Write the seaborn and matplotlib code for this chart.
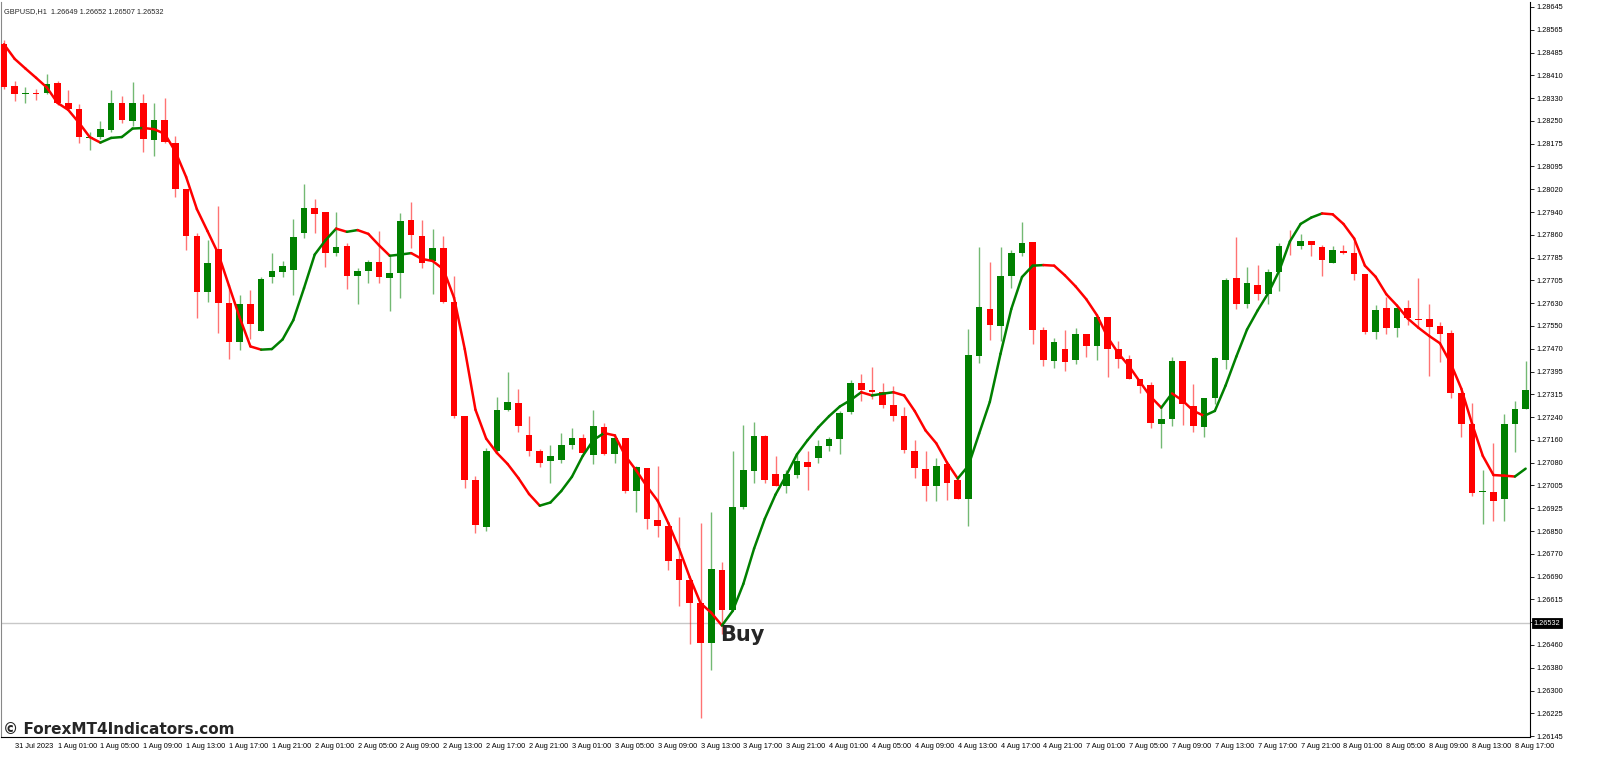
import numpy as np
import pandas as pd
import seaborn as sns
import matplotlib
matplotlib.use("Agg")
import matplotlib.pyplot as plt

# GBPUSD H1, 31 Jul 2023 20:00 .. 8 Aug 2023 18:00
opens = [1.28517, 1.28374, 1.28347, 1.28347, 1.28349, 1.28383, 1.28316, 1.28294, 1.28197, 1.28199,
         1.28223, 1.28316, 1.28254, 1.28316, 1.28188, 1.28257, 1.28179, 1.28020, 1.27861, 1.27669,
         1.27815, 1.27629, 1.27497, 1.27627, 1.27535, 1.27718, 1.27737, 1.27744, 1.27870, 1.27957,
         1.27941, 1.27801, 1.27826, 1.27724, 1.27740, 1.27771, 1.27716, 1.27732, 1.27916, 1.27861,
         1.27774, 1.27817, 1.27633, 1.27242, 1.27023, 1.26862, 1.27122, 1.27262, 1.27288, 1.27179,
         1.27122, 1.27089, 1.27091, 1.27144, 1.27168, 1.27108, 1.27204, 1.27113, 1.27166, 1.26987,
         1.27064, 1.26886, 1.26866, 1.26751, 1.26680, 1.26601, 1.26464, 1.26716, 1.26577, 1.26930,
         1.27053, 1.27173, 1.27045, 1.27004, 1.27039, 1.27085, 1.27100, 1.27140, 1.27162, 1.27256,
         1.27357, 1.27330, 1.27324, 1.27280, 1.27242, 1.27122, 1.27061, 1.27001, 1.27078, 1.27023,
         1.26957, 1.27447, 1.27611, 1.27552, 1.27724, 1.27803, 1.27838, 1.27539, 1.27432, 1.27473,
         1.27435, 1.27525, 1.27484, 1.27581, 1.27473, 1.27438, 1.27369, 1.27349, 1.27216, 1.27231,
         1.27432, 1.27278, 1.27205, 1.27303, 1.27435, 1.27714, 1.27625, 1.27690, 1.27662, 1.27736,
         1.27826, 1.27824, 1.27841, 1.27821, 1.27767, 1.27808, 1.27802, 1.27728, 1.27531, 1.27613,
         1.27545, 1.27614, 1.27575, 1.27575, 1.27550, 1.27528, 1.27320, 1.27216, 1.26982, 1.26983,
         1.26958, 1.27216, 1.27265]
highs = [1.28530, 1.28391, 1.28369, 1.28365, 1.28415, 1.28391, 1.28361, 1.28312, 1.28217, 1.28254,
         1.28361, 1.28341, 1.28387, 1.28347, 1.28314, 1.28333, 1.28204, 1.28020, 1.27870, 1.27845,
         1.27961, 1.27689, 1.27656, 1.27673, 1.27719, 1.27803, 1.27774, 1.27919, 1.28039, 1.27987,
         1.27941, 1.27941, 1.27834, 1.27750, 1.27779, 1.27878, 1.27790, 1.27940, 1.27976, 1.27914,
         1.27885, 1.27861, 1.27721, 1.27244, 1.27036, 1.27133, 1.27308, 1.27393, 1.27335, 1.27244,
         1.27130, 1.27144, 1.27185, 1.27201, 1.27180, 1.27262, 1.27217, 1.27180, 1.27166, 1.27072,
         1.27064, 1.27072, 1.26866, 1.26895, 1.26680, 1.26877, 1.26913, 1.26741, 1.27122, 1.27213,
         1.27222, 1.27176, 1.27107, 1.27056, 1.27116, 1.27121, 1.27160, 1.27169, 1.27258, 1.27366,
         1.27385, 1.27410, 1.27357, 1.27346, 1.27275, 1.27160, 1.27121, 1.27100, 1.27083, 1.27034,
         1.27541, 1.27823, 1.27771, 1.27823, 1.27812, 1.27907, 1.27838, 1.27547, 1.27510, 1.27539,
         1.27545, 1.27525, 1.27586, 1.27581, 1.27501, 1.27451, 1.27371, 1.27358, 1.27271, 1.27446,
         1.27432, 1.27353, 1.27303, 1.27446, 1.27714, 1.27857, 1.27755, 1.27760, 1.27747, 1.27835,
         1.27881, 1.27868, 1.27841, 1.27830, 1.27824, 1.27830, 1.27841, 1.27728, 1.27624, 1.27649,
         1.27616, 1.27641, 1.27714, 1.27627, 1.27564, 1.27539, 1.27331, 1.27287, 1.27057, 1.27150,
         1.27249, 1.27295, 1.27430]
lows = [1.28365, 1.28323, 1.28316, 1.28325, 1.28347, 1.28308, 1.28290, 1.28177, 1.28155, 1.28193,
        1.28215, 1.28248, 1.28237, 1.28146, 1.28135, 1.28177, 1.27994, 1.27810, 1.27580, 1.27634,
        1.27527, 1.27437, 1.27470, 1.27508, 1.27533, 1.27700, 1.27719, 1.27659, 1.27853, 1.27870,
        1.27754, 1.27790, 1.27677, 1.27628, 1.27697, 1.27700, 1.27602, 1.27648, 1.27817, 1.27750,
        1.27661, 1.27631, 1.27237, 1.26995, 1.26842, 1.26848, 1.27116, 1.27259, 1.27187, 1.27105,
        1.27069, 1.27012, 1.27081, 1.27129, 1.27105, 1.27078, 1.27109, 1.27081, 1.26979, 1.26913,
        1.26855, 1.26826, 1.26716, 1.26592, 1.26461, 1.26207, 1.26371, 1.26494, 1.26577, 1.26924,
        1.27012, 1.27012, 1.27004, 1.26979, 1.27031, 1.26990, 1.27083, 1.27122, 1.27111, 1.27248,
        1.27295, 1.27300, 1.27269, 1.27226, 1.27116, 1.27031, 1.26952, 1.26952, 1.26954, 1.26957,
        1.26864, 1.27425, 1.27502, 1.27500, 1.27680, 1.27790, 1.27488, 1.27413, 1.27408, 1.27397,
        1.27422, 1.27446, 1.27435, 1.27377, 1.27408, 1.27369, 1.27320, 1.27203, 1.27134, 1.27207,
        1.27210, 1.27188, 1.27172, 1.27282, 1.27402, 1.27608, 1.27613, 1.27641, 1.27627, 1.27671,
        1.27794, 1.27816, 1.27791, 1.27722, 1.27767, 1.27799, 1.27709, 1.27525, 1.27508, 1.27525,
        1.27512, 1.27554, 1.27545, 1.27380, 1.27426, 1.27303, 1.27172, 1.26969, 1.26871, 1.26882,
        1.26882, 1.27119, 1.27265]
closes = [1.28369, 1.28347, 1.28349, 1.28346, 1.28380, 1.28316, 1.28294, 1.28199, 1.28199, 1.28226,
          1.28316, 1.28257, 1.28316, 1.28191, 1.28257, 1.28182, 1.28020, 1.27859, 1.27667, 1.27766,
          1.27629, 1.27497, 1.27626, 1.27558, 1.27713, 1.27740, 1.27757, 1.27856, 1.27954, 1.27935,
          1.27801, 1.27823, 1.27724, 1.27739, 1.27770, 1.27718, 1.27732, 1.27911, 1.27864, 1.27766,
          1.27820, 1.27633, 1.27242, 1.27023, 1.26869, 1.27122, 1.27264, 1.27291, 1.27209, 1.27124,
          1.27083, 1.27105, 1.27144, 1.27166, 1.27116, 1.27207, 1.27113, 1.27166, 1.26985, 1.27067,
          1.26888, 1.26866, 1.26747, 1.26680, 1.26603, 1.26464, 1.26719, 1.26579, 1.26930, 1.27056,
          1.27173, 1.27023, 1.27004, 1.27042, 1.27089, 1.27067, 1.27140, 1.27162, 1.27253, 1.27357,
          1.27330, 1.27326, 1.27280, 1.27242, 1.27127, 1.27063, 1.27001, 1.27072, 1.27012, 1.26957,
          1.27450, 1.27615, 1.27554, 1.27721, 1.27801, 1.27834, 1.27537, 1.27435, 1.27497, 1.27426,
          1.27525, 1.27481, 1.27581, 1.27471, 1.27437, 1.27369, 1.27347, 1.27218, 1.27231, 1.27432,
          1.27282, 1.27208, 1.27303, 1.27440, 1.27709, 1.27625, 1.27700, 1.27662, 1.27736, 1.27826,
          1.27824, 1.27844, 1.27830, 1.27777, 1.27810, 1.27802, 1.27728, 1.27531, 1.27607, 1.27545,
          1.27614, 1.27577, 1.27571, 1.27547, 1.27525, 1.27320, 1.27216, 1.26980, 1.26985, 1.26951,
          1.27216, 1.27267, 1.27331]
# trend indicator value per bar
trend = [1.28517, 1.28467, 1.28434, 1.28402, 1.28369, 1.28316, 1.28292, 1.28248, 1.28199, 1.28180,
         1.28196, 1.28199, 1.28228, 1.28230, 1.28226, 1.28210, 1.28149, 1.28062, 1.27952, 1.27876,
         1.27799, 1.27689, 1.27580, 1.27481, 1.27470, 1.27472, 1.27505, 1.27571, 1.27681, 1.27796,
         1.27845, 1.27885, 1.27874, 1.27880, 1.27867, 1.27828, 1.27792, 1.27796, 1.27801, 1.27781,
         1.27774, 1.27746, 1.27648, 1.27472, 1.27264, 1.27165, 1.27116, 1.27078, 1.27030, 1.26975,
         1.26935, 1.26946, 1.26985, 1.27034, 1.27105, 1.27160, 1.27184, 1.27176, 1.27105, 1.27056,
         1.27001, 1.26952, 1.26875, 1.26788, 1.26689, 1.26601, 1.26568, 1.26524, 1.26574, 1.26667,
         1.26788, 1.26890, 1.26973, 1.27039, 1.27111, 1.27160, 1.27204, 1.27242, 1.27275, 1.27297,
         1.27324, 1.27313, 1.27319, 1.27324, 1.27313, 1.27259, 1.27193, 1.27149, 1.27083, 1.27028,
         1.27072, 1.27182, 1.27291, 1.27456, 1.27609, 1.27719, 1.27758, 1.27760, 1.27758, 1.27725,
         1.27687, 1.27643, 1.27588, 1.27512, 1.27457, 1.27413, 1.27360, 1.27309, 1.27271, 1.27320,
         1.27295, 1.27260, 1.27243, 1.27260, 1.27347, 1.27446, 1.27539, 1.27605, 1.27665, 1.27740,
         1.27841, 1.27901, 1.27923, 1.27937, 1.27934, 1.27901, 1.27851, 1.27758, 1.27720, 1.27660,
         1.27621, 1.27577, 1.27545, 1.27517, 1.27492, 1.27424, 1.27336, 1.27216, 1.27106, 1.27040,
         1.27038, 1.27035, 1.27062]

price_ticks = ["1.26145", "1.26225", "1.26300", "1.26380", "1.26460", "", "1.26615", "1.26690",
               "1.26770", "1.26850", "1.26925", "1.27005", "1.27080", "1.27160", "1.27240", "1.27315",
               "1.27395", "1.27470", "1.27550", "1.27630", "1.27705", "1.27785", "1.27860", "1.27940",
               "1.28020", "1.28095", "1.28175", "1.28250", "1.28330", "1.28410", "1.28485", "1.28565",
               "1.28645"]
time_labels = ["31 Jul 2023",
               "1 Aug 01:00", "1 Aug 05:00", "1 Aug 09:00", "1 Aug 13:00", "1 Aug 17:00", "1 Aug 21:00",
               "2 Aug 01:00", "2 Aug 05:00", "2 Aug 09:00", "2 Aug 13:00", "2 Aug 17:00", "2 Aug 21:00",
               "3 Aug 01:00", "3 Aug 05:00", "3 Aug 09:00", "3 Aug 13:00", "3 Aug 17:00", "3 Aug 21:00",
               "4 Aug 01:00", "4 Aug 05:00", "4 Aug 09:00", "4 Aug 13:00", "4 Aug 17:00", "4 Aug 21:00",
               "7 Aug 01:00", "7 Aug 05:00", "7 Aug 09:00", "7 Aug 13:00", "7 Aug 17:00", "7 Aug 21:00",
               "8 Aug 01:00", "8 Aug 05:00", "8 Aug 09:00", "8 Aug 13:00", "8 Aug 17:00"]
last_price = 1.26532
header = "GBPUSD,H1  1.26649 1.26652 1.26507 1.26532"

RED = "#ff0000"
GREEN = "#008000"

df = pd.DataFrame({"open": opens, "high": highs, "low": lows, "close": closes, "trend": trend})
df["bar"] = np.arange(len(df))
df["up"] = df["close"] >= df["open"]

sns.set_style("white")
plt.rcParams["font.family"] = ["Liberation Sans", "DejaVu Sans"]

fig = plt.figure(figsize=(16, 7.68), dpi=100)
ax = fig.add_axes([0.0006, 0.0404, 0.9556, 0.957])

colors = np.where(df["up"], GREEN, RED)
ax.vlines(df["bar"], df["low"], df["high"], colors=colors, lw=1, alpha=0.55, zorder=2)
body_lo = df[["open", "close"]].min(axis=1)
body_h = (df["open"] - df["close"]).abs().clip(lower=0.00003)
ax.bar(df["bar"], body_h, bottom=body_lo, width=0.62, color=colors, lw=0, zorder=3)

# trend line: green while rising, red while falling
h = df["trend"].to_numpy()
for i in range(1, len(h)):
    c = GREEN if h[i] >= h[i - 1] else RED
    sns.lineplot(x=[i - 1, i], y=[h[i - 1], h[i]], color=c, lw=1.8, ax=ax, zorder=4)

ax.axhline(last_price, color="#c8c8c8", lw=1, zorder=1)

ax.set_xlim(-0.28, 142.4)
ax.set_ylim(1.26142, 1.28662)
ax.set_yticks(np.linspace(1.26145, 1.28645, len(price_ticks)))
ax.set_yticklabels(price_ticks)
ax.yaxis.tick_right()
ax.set_xticks(np.arange(1, 142, 4))
ax.set_xticklabels(time_labels, ha="left")
ax.tick_params(axis="both", labelsize=5.3, length=3, width=0.6, colors="black", direction="out", pad=1.5)
ax.spines["top"].set_visible(False)
for side in ["left", "right", "bottom"]:
    ax.spines[side].set_color("black")
    ax.spines[side].set_linewidth(0.8)
ax.spines["left"].set_color("#888888")
ax.set_xlabel("")
ax.set_ylabel("")

ax.text(142.75, last_price, f"{last_price:.5f}", fontsize=5.3, color="white", va="center", ha="left",
        clip_on=False, bbox=dict(boxstyle="square,pad=0.2", fc="black", ec="black", lw=0.6))
ax.text(0.002, 0.992, header, transform=ax.transAxes, fontsize=5.3, va="top", ha="left")
ax.text(66.8, 1.26491, "Buy", fontsize=15, fontweight="bold", va="center", ha="left", zorder=5,
        family=["DejaVu Sans"])
fig.text(0.002, 0.05, "© ForexMT4Indicators.com", fontsize=11, fontweight="bold", va="center", ha="left",
         family=["DejaVu Sans"])

fig.savefig("out.png", dpi=100, facecolor="white")
